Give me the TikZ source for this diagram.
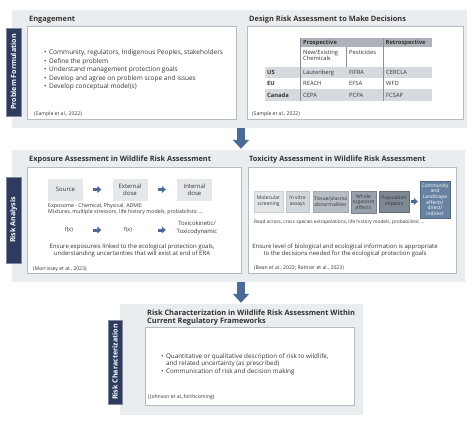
\documentclass[tikz,border=0pt]{standalone}
\usepackage{fontspec}
\setmainfont{Open Sans}
\usetikzlibrary{arrows.meta,calc}
\definecolor{panelgray}{HTML}{EAEDF0}
\definecolor{boxline}{HTML}{B5BBC2}
\definecolor{navy}{HTML}{2E3B5E}
\definecolor{arrblue}{HTML}{4A6B9A}
\definecolor{txt}{HTML}{333333}
\definecolor{lightbox}{HTML}{E5E8EB}
\definecolor{tabhead}{HTML}{AEB3B9}
\definecolor{tabrow}{HTML}{D6DADF}
\definecolor{tabline}{HTML}{8A9098}
\definecolor{tA}{HTML}{E3E6E9}
\definecolor{tB}{HTML}{D3D8DD}
\definecolor{tC}{HTML}{B7BDC4}
\definecolor{tD}{HTML}{99A2AC}
\definecolor{tE}{HTML}{7F8996}
\definecolor{tF}{HTML}{6883A2}
\newcommand{\fsz}[2]{\fontsize{#1}{#2}\selectfont}
\newcommand{\bul}{\textbullet\hspace{2.5pt}}
\begin{document}
\begin{tikzpicture}[x=1pt,y=-1pt,
 panel/.style={fill=panelgray, draw=none, inner sep=0, rectangle},
 whitebox/.style={fill=white, draw=boxline, line width=0.6pt, inner sep=0},
 sidelabel/.style={fill=navy, draw=navy!60!white, line width=0.5pt, text=white, font=\bfseries\fsz{7.1}{8}, rotate=90, inner sep=0},
 title/.style={anchor=west, inner sep=0, font=\bfseries\fsz{7.4}{8.4}, text=txt, align=left},
 body/.style={anchor=west, inner sep=0, text=txt, align=left},
 cite/.style={anchor=west, inner sep=0, text=txt, font=\fsz{5.1}{6}},
 bigarr/.style={draw=arrblue, line width=8pt, -{Triangle[width=16pt,length=9pt]}},
 smallarr/.style={draw=arrblue, line width=3pt, -{Triangle[width=7pt,length=4pt]}},
 expbox/.style={fill=lightbox, inner sep=0, minimum width=35pt, minimum height=22pt, align=center, text=txt, font=\fsz{6}{7}},
 toxbox/.style={inner sep=0, minimum height=21pt, align=center, font=\fsz{5}{5.8}, line width=0.4pt},
 tab/.style={anchor=west, inner sep=0, text=txt, font=\fsz{5.8}{6.5}, align=left},
 tabb/.style={tab, font=\bfseries\fsz{5.8}{6.5}},
]
\useasboundingbox (0,0) rectangle (474,424);
\fill[white] (0,0) rectangle (474,424);

% panels
\node[panel, minimum width=455pt, minimum height=118pt] (p1) at (239.5,69) {};
\node[panel, minimum width=453pt, minimum height=132pt] (p2) at (238.5,216) {};
\node[panel, minimum width=243pt, minimum height=111pt] (p3) at (241.5,359.5) {};

% white boxes
\node[whitebox, minimum width=209pt, minimum height=93pt] (eng) at (131.5,72.5) {};
\node[whitebox, minimum width=216pt, minimum height=93pt] (des) at (355,72.5) {};
\node[whitebox, minimum width=214pt, minimum height=106pt] (exp) at (134,220) {};
\node[whitebox, minimum width=208pt, minimum height=106pt] (tox) at (352,220) {};
\node[whitebox, minimum width=209pt, minimum height=78pt] (rc) at (249.5,366) {};

% side labels
\node[sidelabel, minimum width=88pt, minimum height=15pt] (lpf) at (13.5,72) {Problem Formulation};
\node[sidelabel, minimum width=86pt, minimum height=15pt] (lra) at (13.5,220) {Risk Analysis};
\node[sidelabel, minimum width=84pt, minimum height=14pt] (lrc) at (115,362) {Risk Characterization};

% arrows between panels
\draw[bigarr] ([xshift=1.5pt]p1.south) -- ([xshift=2.5pt,yshift=1pt]p2.north);
\draw[bigarr] ([xshift=2.5pt]p2.south) -- ([xshift=-0.5pt,yshift=1pt]p3.north);

% titles
\node[title] (tEng) at (29,20) {Engagement};
\node[title] (tDes) at (249,20) {Design Risk Assessment to Make Decisions};
\node[title] (tExp) at (29,160) {Exposure Assessment in Wildlife Risk Assessment};
\node[title] (tTox) at (249,160) {Toxicity Assessment in Wildlife Risk Assessment};
\node[title] (tRC) at (147,317.5) {Risk Characterization in Wildlife Risk Assessment Within\\Current Regulatory Frameworks};

% engagement
\node[body, font=\fsz{6.5}{8.35}] (engList) at (44,70) {\bul Community, regulators, Indigenous Peoples, stakeholders\\
\bul Define the problem\\
\bul Understand management protection goals\\
\bul Develop and agree on problem scope and issues\\
\bul Develop conceptual model(s)};
\node[cite] (engCite) at (34,114) {(Sample et al., 2022)};

% design table
\fill[tabhead] (300,38) rectangle (432,47);
\fill[tabrow] (265,67) rectangle (432,78);
\fill[tabrow] (265,89) rectangle (432,101);
\draw[tabline, line width=0.5pt] (300,38) -- (300,101);
\draw[tabline, line width=0.5pt] (383,38) -- (383,101);
\draw[tabline, line width=0.5pt] (346,47) -- (346,67);
\node[tabb] (hPro) at (303,42.5) {Prospective};
\node[tabb] (hRet) at (385.5,42.5) {Retrospective};
\node[tab] (cNew) at (303,55.5) {New/Existing\\Chemicals};
\node[tab] (cPes) at (349,52.5) {Pesticides};
\node[tabb] (rUS) at (267,72.5) {US};
\node[tab] (cLau) at (303,72.5) {Lautenberg};
\node[tab] (cFif) at (349,72.5) {FIFRA};
\node[tab] (cCer) at (386,72.5) {CERCLA};
\node[tabb] (rEU) at (267,83.5) {EU};
\node[tab] (cRea) at (303,83.5) {REACH};
\node[tab] (cEfs) at (349,83.5) {EFSA};
\node[tab] (cWfd) at (386,83.5) {WFD};
\node[tabb] (rCa) at (267,95) {Canada};
\node[tab] (cCep) at (303,95) {CEPA};
\node[tab] (cPcp) at (349,95) {PCPA};
\node[tab] (cFcs) at (386,95) {FCSAP};
\node[cite] (desCite) at (252,114) {(Sample et al., 2022)};

% exposure
\node[expbox] (src) at (65.5,189.5) {Source};
\node[expbox] (ext) at (130,189.5) {External\\dose};
\node[expbox] (int) at (194.5,189.5) {Internal\\dose};
\draw[smallarr] ([xshift=10pt]src.east) -- ([xshift=-11pt]ext.west);
\draw[smallarr] ([xshift=10pt]ext.east) -- ([xshift=-11pt]int.west);
\node[body, font=\fsz{5.3}{6.4}] (expo) at (48,209) {Exposome - Chemical, Physical, ADME:\\Mixtures, multiple stressors, life history models, probabilistic \dots};
\node[inner sep=0, text=txt, font=\fsz{5.6}{6}] (fx1) at (69,230) {f(x)};
\node[inner sep=0, text=txt, font=\fsz{5.6}{6}] (fx2) at (128,230) {f(x)};
\node[inner sep=0, text=txt, font=\fsz{5.9}{7.5}, align=center] (tk) at (197,228) {Toxicokinetic/\\Toxicodynamic};
\draw[smallarr] ($(src.east |- fx1)+(10,0)$) -- ($(ext.west |- fx1)+(-11,0)$);
\draw[smallarr] ($(ext.east |- fx2)+(10,0)$) -- ($(int.west |- fx2)+(-11,0)$);
\node[inner sep=0, text=txt, font=\fsz{6}{7.2}, align=center] (ensX) at (132,250.5) {Ensure exposureis linked to the ecological protection goals,\\understanding uncertainties that will exist at end of ERA};
\node[cite] (expCite) at (33,269) {(Morrissey et al., 2023)};

% toxicity
\node[toxbox, fill=tA, draw=tA!90!black, minimum width=29pt, text=txt] (mol) at (268.5,201.5) {Molecular\\screening};
\node[toxbox, fill=tB, draw=tB!90!black, minimum width=23pt, text=txt] (vit) at (297.5,201.5) {In vitro\\assays};
\node[toxbox, fill=tC, draw=tC!90!black, minimum width=35pt, text=txt] (tis) at (330.5,201.5) {Tissue/plasma\\abnormalities};
\node[toxbox, fill=tD, draw=tD!80!black, minimum width=25pt, minimum height=22pt, text=txt] (who) at (363.5,202) {Whole\\organism\\effects};
\node[toxbox, fill=tE, draw=tE!80!black, minimum width=30pt, text=txt] (pop) at (394,201.5) {Population\\impacts};
\node[toxbox, fill=tF, draw=tF!80!black, minimum width=30pt, minimum height=37pt, text=white, font=\fsz{4.9}{5.6}] (com) at (435,199.5) {Community\\and\\Landscape\\effects/\\direct/\\indirect};
\draw[smallarr] ([xshift=2pt]pop.east) -- ($(pop.east -| com.west)+(-2,0)$);
\node[body, font=\fsz{4.8}{5.5}] (read) at (254,222) {Read across, cross species extrapolations, life history models, probabilistic \dots};
\node[inner sep=0, text=txt, font=\fsz{6}{7.2}, align=center] (ensT) at (345,250.5) {Ensure level of biological and ecological information is appropriate\\to the decisions needed for the ecological protection goals};
\node[cite] (toxCite) at (254,268) {(Bean et al., 2023; Rattner et al., 2023)};

% risk characterization
\node[body, font=\fsz{6.3}{7.4}] (rcList) at (161,364) {\bul Quantitative or qualitative description of risk to wildlife,\\
\phantom{\bul}and related uncertainty (as prescribed)\\
\bul Communication of risk and decision making};
\node[cite] (rcCite) at (148,397) {(Johnson et al.,forthcoming)};
\end{tikzpicture}
\end{document}
